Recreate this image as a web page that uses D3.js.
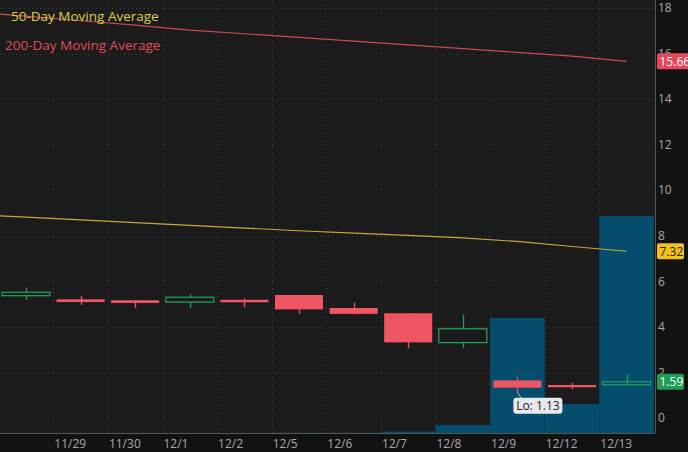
<!DOCTYPE html>
<html>
<head>
<meta charset="utf-8">
<title>Candles</title>
<script src="https://cdn.jsdelivr.net/npm/d3@7"></script>
<style>
  html, body { margin: 0; padding: 0; background: #121212; }
  svg { display: block; font-family: "Open Sans", "Noto Sans", sans-serif; }
</style>
</head>
<body>
<script>
// daily bars, 11/28 .. 12/13
var dates = ["11/28", "11/29", "11/30", "12/1", "12/2", "12/5", "12/6", "12/7", "12/8", "12/9", "12/12", "12/13"];
var opens  = [5.37, 5.21, 5.17, 5.09, 5.19, 5.40, 4.83, 4.60, 3.31, 1.65, 1.45, 1.46];
var highs  = [5.71, 5.37, 5.18, 5.44, 5.25, 5.40, 5.06, 4.60, 4.55, 1.81, 1.55, 1.92];
var lows   = [5.18, 4.96, 4.82, 4.82, 4.86, 4.57, 4.55, 3.06, 3.06, 1.13, 1.26, 1.46];
var closes = [5.52, 5.09, 5.05, 5.30, 5.08, 4.77, 4.57, 3.32, 3.92, 1.33, 1.35, 1.59];
// volume, millions
var volumes = [0.01, 0.01, 0.01, 0.01, 0.01, 0.02, 0.02, 0.1, 0.55, 7.95, 2.0, 15.0];
// moving averages, first value is the session before 11/28
var ma50  = [8.94, 8.82, 8.70, 8.58, 8.46, 8.34, 8.22, 8.12, 8.02, 7.91, 7.75, 7.53, 7.32];
var ma200 = [17.84, 17.64, 17.44, 17.25, 17.03, 16.87, 16.71, 16.55, 16.38, 16.22, 16.05, 15.89, 15.66];
var yTicks = [0, 2, 4, 6, 8, 10, 12, 14, 16, 18];

var W = 688, H = 452;
var plotR = 655, plotB = 433;
var cGreen = "#1f9d5c", cRed = "#ef5563", cVol = "#044d6d";

var svg = d3.select("body").append("svg")
	.attr("width", W)
	.attr("height", H);

svg.append("rect").attr("width", W).attr("height", H).attr("fill", "#121212");
svg.append("rect").attr("width", plotR).attr("height", plotB).attr("fill", "#1b1b1b");

svg.append("clipPath").attr("id", "plotclip")
	.append("rect").attr("width", plotR).attr("height", plotB);

var x = d3.scaleLinear().domain([-0.5, dates.length - 0.5]).range([-1.3, 653.9]);
var bw = x(1) - x(0);
var y = d3.scaleLinear().domain([0, 18]).range([418, 8]);
var yv = d3.scaleLinear().domain([0, d3.max(volumes)]).range([plotB, 216]);

var plot = svg.append("g").attr("clip-path", "url(#plotclip)");

// grid
plot.append("g").selectAll("line")
	.data(yTicks)
	.enter().append("line")
	.attr("x1", 0).attr("x2", plotR)
	.attr("y1", function(d) { return Math.round(y(d)) + 0.5; })
	.attr("y2", function(d) { return Math.round(y(d)) + 0.5; })
	.attr("stroke", "#3a3a3a").attr("stroke-dasharray", "1,3");
plot.append("g").selectAll("line")
	.data(d3.range(1, dates.length))
	.enter().append("line")
	.attr("x1", function(i) { return Math.round(x(i - 0.5)) + 0.5; })
	.attr("x2", function(i) { return Math.round(x(i - 0.5)) + 0.5; })
	.attr("y1", 0).attr("y2", plotB)
	.attr("stroke", "#3a3a3a").attr("stroke-dasharray", "1,3");

// volume
plot.append("g").selectAll("rect")
	.data(volumes)
	.enter().append("rect")
	.attr("x", function(d, i) { return x(i - 0.5); })
	.attr("width", bw)
	.attr("y", function(d) { return yv(d); })
	.attr("height", function(d) { return plotB - yv(d); })
	.attr("fill", cVol);

// moving averages
var maLine = d3.line()
	.x(function(d, i) { return x(i - 1); })
	.y(function(d) { return y(d); });
plot.append("path").datum(ma200)
	.attr("d", maLine).attr("fill", "none")
	.attr("stroke", "#c84a5a").attr("stroke-width", 1.2);
plot.append("path").datum(ma50)
	.attr("d", maLine).attr("fill", "none")
	.attr("stroke", "#c9a640").attr("stroke-width", 1.2);

// candles
var candles = plot.append("g").selectAll("g")
	.data(dates.map(function(d, i) {
		return {date: d, i: i, o: opens[i], h: highs[i], l: lows[i], c: closes[i]};
	}))
	.enter().append("g");
candles.append("line")
	.attr("x1", function(d) { return Math.round(x(d.i)) + 0.5; })
	.attr("x2", function(d) { return Math.round(x(d.i)) + 0.5; })
	.attr("y1", function(d) { return y(d.h); })
	.attr("y2", function(d) { return y(d.l); })
	.attr("stroke", function(d) { return d.c >= d.o ? cGreen : cRed; })
	.attr("stroke-width", 1.3);
candles.append("rect")
	.attr("x", function(d) { return x(d.i) - bw * 0.44; })
	.attr("width", bw * 0.88)
	.attr("y", function(d) { return y(Math.max(d.o, d.c)); })
	.attr("height", function(d) { return Math.max(2, Math.abs(y(d.o) - y(d.c))); })
	.attr("fill", function(d) { return d.c >= d.o ? "#1b1b1b" : cRed; })
	.attr("fill-opacity", function(d) { return d.c >= d.o && volumes[d.i] > 1 ? 0 : 1; })
	.attr("stroke", function(d) { return d.c >= d.o ? cGreen : "none"; })
	.attr("stroke-width", 1.3);

// low callout on 12/9
var lowIdx = 9;
var lo = svg.append("g");
lo.append("line")
	.attr("x1", x(lowIdx)).attr("y1", y(lows[lowIdx]))
	.attr("x2", x(lowIdx) + 4).attr("y2", y(lows[lowIdx]) + 6)
	.attr("stroke", "#bbbbbb").attr("stroke-width", 1);
lo.append("rect")
	.attr("x", x(lowIdx) - 4).attr("y", y(lows[lowIdx]) + 5.5)
	.attr("width", 49).attr("height", 16).attr("rx", 3)
	.attr("fill", "#e9e9e9");
lo.append("text")
	.attr("x", x(lowIdx) + 20.5).attr("y", y(lows[lowIdx]) + 17.5)
	.attr("text-anchor", "middle")
	.attr("font-size", 12).attr("fill", "#222")
	.text("Lo: " + lows[lowIdx].toFixed(2));

// legend
svg.append("text").attr("x", 11).attr("y", 21)
	.attr("font-size", 13.5).attr("fill", "#dccf45")
	.text("50-Day Moving Average");
svg.append("text").attr("x", 5).attr("y", 50)
	.attr("font-size", 13.5).attr("fill", "#e04a5c")
	.text("200-Day Moving Average");

// axes frame
svg.append("line").attr("x1", plotR + 0.5).attr("x2", plotR + 0.5)
	.attr("y1", 0).attr("y2", plotB).attr("stroke", "#555");
svg.append("line").attr("x1", 0).attr("x2", plotR)
	.attr("y1", plotB + 0.5).attr("y2", plotB + 0.5).attr("stroke", "#555");

// right axis
var yAxis = svg.append("g");
yAxis.selectAll("text")
	.data(yTicks)
	.enter().append("text")
	.attr("x", 658)
	.attr("y", function(d) { return y(d); })
	.attr("dy", "0.35em")
	.attr("font-size", 12).attr("fill", "#a8a8a8")
	.text(function(d) { return d; });

// x labels
svg.append("g").selectAll("text")
	.data(d3.range(1, dates.length))
	.enter().append("text")
	.attr("x", function(i) { return x(i - 0.5) + 1; })
	.attr("y", 448)
	.attr("font-size", 12).attr("fill", "#a8a8a8")
	.text(function(i) { return dates[i]; });

// last value badges
var last = dates.length - 1;
var badges = [
	{v: ma200[ma200.length - 1], bg: "#e5485b", fg: "#ffffff"},
	{v: ma50[ma50.length - 1], bg: "#f2c21b", fg: "#1a1a1a"},
	{v: closes[last], bg: "#1f9d55", fg: "#ffffff"}
];
var bg = svg.append("g").selectAll("g").data(badges).enter().append("g");
bg.append("rect")
	.attr("x", 657)
	.attr("y", function(d) { return y(d.v) - 8; })
	.attr("width", function(d) { return d.v >= 10 ? 34 : 27; })
	.attr("height", 16).attr("rx", 2)
	.attr("fill", function(d) { return d.bg; });
bg.append("text")
	.attr("x", 659.5)
	.attr("y", function(d) { return y(d.v); })
	.attr("dy", "0.36em")
	.attr("font-size", 12)
	.attr("fill", function(d) { return d.fg; })
	.text(function(d) { return d.v.toFixed(2); });
</script>
</body>
</html>
